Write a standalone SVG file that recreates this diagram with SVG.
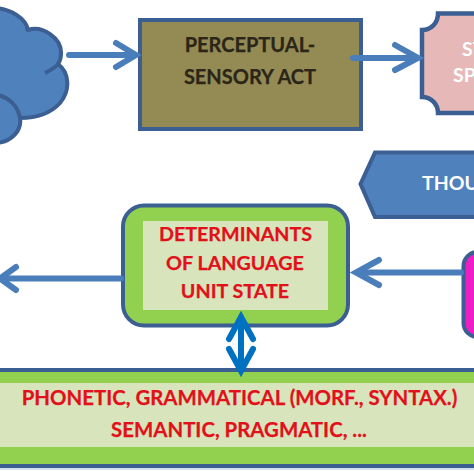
<svg xmlns="http://www.w3.org/2000/svg" width="474" height="474" viewBox="0 0 474 474">
<style>
text{font-family:Lato,"Liberation Sans",sans-serif;font-weight:700;text-anchor:middle}
.red{fill:#e2101a;font-size:19.700px;stroke:#e2101a;stroke-width:.25px}
.band{font-size:20.400px}
.wht{fill:#fff;font-size:19.500px;text-anchor:start}
.dark{fill:#2b2618;font-size:20px;stroke:#2b2618;stroke-width:.25px}
.edge{fill:none;stroke:#3b5f92;stroke-width:4;stroke-linejoin:round}
.arr{fill:none;stroke:#4a7ebb;stroke-width:6;stroke-linecap:round;stroke-linejoin:miter}
.dbl{fill:none;stroke:#0070c0;stroke-width:6;stroke-linecap:round}
</style>
<rect width="474" height="474" fill="#fff"/>
<g id="cloud">
<path class="edge" style="fill:#4f81bd" d="M-4,8C10,9 26,18 28,30C42,25 62,38 61,54C61,58 60,61 58,64C69,72 71,90 60,103C50,114 36,118 20,118C22,130 12,142 -4,143Z"/>
<path class="edge" d="M45,73C51,70 56,67 58,64M28,30C27,29 27,28 27,27M20,118C18,106 8,96 -4,95"/>
</g>
<g id="perceptual">
<rect x="140" y="20" width="221" height="109" fill="#948a54" stroke="#3b5f92" stroke-width="4"/>
<text class="dark" x="250" y="52">PERCEPTUAL-</text>
<text class="dark" x="250" y="84">SENSORY ACT</text>
</g>
<g id="state">
<path d="M480,13.500H438C438,23 431,30 422,30V97C431,97 438,104 438,113H480Z" fill="#e6b9b8" stroke="#3b5f92" stroke-width="4.500"/>
<text class="wht" x="462" y="56">ST</text>
<text class="wht" x="453" y="82">SP</text>
</g>
<g id="thought">
<path d="M480,152.500H375L360.500,184L375,217H480Z" fill="#4f81bd" stroke="#3b5f92" stroke-width="4"/>
<text class="wht" x="422" y="190">THOU</text>
</g>
<g id="determinants">
<rect x="123" y="205.500" width="225" height="120" rx="21" fill="#92d050" stroke="#3b5f92" stroke-width="4"/>
<rect x="143" y="221" width="185" height="89" fill="#d8e4bc"/>
<text class="red" x="235.500" y="241">DETERMINANTS</text>
<text class="red" x="235" y="270">OF LANGUAGE</text>
<text class="red" x="235" y="298">UNIT STATE</text>
</g>
<g id="magenta">
<rect x="463.500" y="252" width="40" height="85" rx="14" fill="#f01cc4" stroke="#3b5f92" stroke-width="4"/>
</g>
<g id="levels">
<rect x="-5" y="370" width="484" height="96" fill="#92d050" stroke="#3b5f92" stroke-width="4"/>
<rect x="0" y="383" width="474" height="64" fill="#d8e4bc"/>
<rect x="0" y="468" width="474" height="2" fill="#d5e0ee"/>
<text class="red band" x="239.500" y="405">PHONETIC, GRAMMATICAL (MORF., SYNTAX.)</text>
<text class="red band" x="239" y="437">SEMANTIC, PRAGMATIC, ...</text>
</g>
<g id="connectors">
<path class="arr" d="M69,55H134"/><path class="arr" d="M116,43L136,55L116,67"/>
<path class="arr" d="M353,58H416"/><path class="arr" d="M395,45L418,58L395,70"/>
<path class="arr" d="M461,272.500H358"/><path class="arr" d="M379,260L356,272.500L379,285"/>
<path class="arr" d="M121,278.500H2"/><path class="arr" d="M16,267L0,278.500L16,290"/>
<path class="dbl" d="M241,318V370"/><path class="dbl" d="M229,339L241,317L253,339"/><path class="dbl" d="M229,349L241,371L253,349"/>
</g>
</svg>
